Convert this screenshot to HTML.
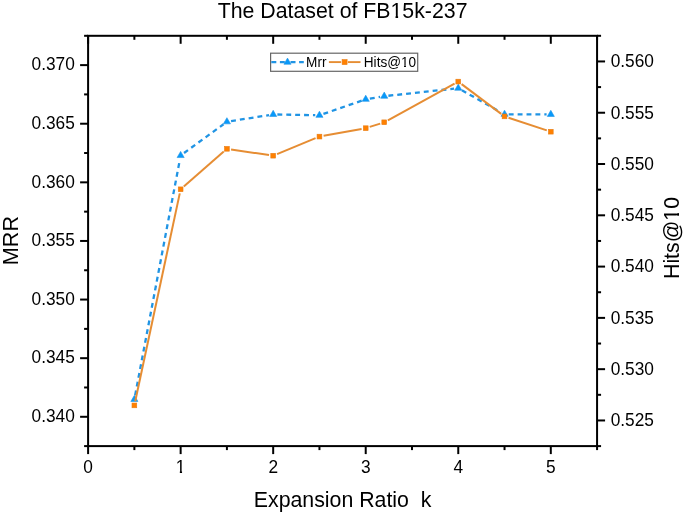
<!DOCTYPE html>
<html><head><meta charset="utf-8"><title>The Dataset of FB15k-237</title>
<style>html,body{margin:0;padding:0;background:#fff;}body{width:685px;height:513px;overflow:hidden;}svg{display:block;}</style>
</head><body>
<svg width="685" height="513" viewBox="0 0 685 513">
<rect width="685" height="513" fill="#fff"/>
<g stroke="#2094e4" stroke-width="2.3" stroke-dasharray="4.9 4.0" fill="none"><line x1="135.15" y1="395.27" x2="179.86" y2="159.63"/><line x1="184.03" y1="153.03" x2="223.52" y2="124.27"/><line x1="231.06" y1="121.14" x2="269.03" y2="115.06"/><line x1="277.38" y1="114.48" x2="315.25" y2="115.22"/><line x1="323.42" y1="113.93" x2="361.75" y2="100.67"/><line x1="369.86" y1="98.61" x2="380.09" y2="96.89"/><line x1="388.40" y1="95.75" x2="454.08" y2="88.65"/><line x1="461.92" y1="90.26" x2="500.87" y2="112.24"/><line x1="508.73" y1="114.31" x2="546.60" y2="114.39"/></g>
<g fill="#0799fb" stroke="#2094e4" stroke-width="0.6" stroke-linejoin="miter"><polygon points="134.37,395.30 130.82,401.45 137.92,401.45"/><polygon points="180.64,151.40 177.09,157.55 184.19,157.55"/><polygon points="226.91,117.70 223.36,123.85 230.46,123.85"/><polygon points="273.18,110.30 269.63,116.45 276.73,116.45"/><polygon points="319.45,111.20 315.90,117.35 323.00,117.35"/><polygon points="365.72,95.20 362.17,101.35 369.27,101.35"/><polygon points="384.23,92.10 380.68,98.25 387.78,98.25"/><polygon points="458.26,84.10 454.71,90.25 461.81,90.25"/><polygon points="504.53,110.20 500.98,116.35 508.08,116.35"/><polygon points="550.80,110.30 547.25,116.45 554.35,116.45"/></g>
<g stroke="#e68d33" stroke-width="2" fill="none"><line x1="135.25" y1="401.29" x2="179.76" y2="193.41"/><line x1="183.80" y1="186.53" x2="223.75" y2="151.57"/><line x1="231.06" y1="149.42" x2="269.03" y2="155.08"/><line x1="277.06" y1="154.10" x2="315.57" y2="138.20"/><line x1="323.58" y1="135.85" x2="361.59" y2="128.95"/><line x1="369.72" y1="126.92" x2="380.23" y2="123.58"/><line x1="387.91" y1="120.28" x2="454.58" y2="83.62"/><line x1="461.62" y1="84.12" x2="501.17" y2="113.88"/><line x1="508.52" y1="117.72" x2="546.81" y2="130.38"/></g>
<g fill="#ff8000" stroke="#e87d14" stroke-width="0.6"><rect x="132.00" y="403.02" width="4.75" height="4.75"/><rect x="178.26" y="186.93" width="4.75" height="4.75"/><rect x="224.53" y="146.43" width="4.75" height="4.75"/><rect x="270.81" y="153.32" width="4.75" height="4.75"/><rect x="317.08" y="134.22" width="4.75" height="4.75"/><rect x="363.35" y="125.82" width="4.75" height="4.75"/><rect x="381.85" y="119.92" width="4.75" height="4.75"/><rect x="455.88" y="79.22" width="4.75" height="4.75"/><rect x="502.15" y="114.03" width="4.75" height="4.75"/><rect x="548.43" y="129.32" width="4.75" height="4.75"/></g>
<g stroke="#000" stroke-width="2.0" stroke-linecap="butt"><rect x="88.1" y="35.8" width="508.97" height="410.30" fill="none"/><line x1="84.10" y1="446.10" x2="88.1" y2="446.10"/><line x1="84.10" y1="387.49" x2="88.1" y2="387.49"/><line x1="84.10" y1="328.87" x2="88.1" y2="328.87"/><line x1="84.10" y1="270.26" x2="88.1" y2="270.26"/><line x1="84.10" y1="211.64" x2="88.1" y2="211.64"/><line x1="84.10" y1="153.03" x2="88.1" y2="153.03"/><line x1="84.10" y1="94.41" x2="88.1" y2="94.41"/><line x1="84.10" y1="35.80" x2="88.1" y2="35.80"/><line x1="80.10" y1="416.79" x2="88.1" y2="416.79"/><line x1="80.10" y1="358.18" x2="88.1" y2="358.18"/><line x1="80.10" y1="299.56" x2="88.1" y2="299.56"/><line x1="80.10" y1="240.95" x2="88.1" y2="240.95"/><line x1="80.10" y1="182.34" x2="88.1" y2="182.34"/><line x1="80.10" y1="123.72" x2="88.1" y2="123.72"/><line x1="80.10" y1="65.11" x2="88.1" y2="65.11"/><line x1="597.07" y1="446.10" x2="601.07" y2="446.10"/><line x1="597.07" y1="394.81" x2="601.07" y2="394.81"/><line x1="597.07" y1="343.53" x2="601.07" y2="343.53"/><line x1="597.07" y1="292.24" x2="601.07" y2="292.24"/><line x1="597.07" y1="240.95" x2="601.07" y2="240.95"/><line x1="597.07" y1="189.66" x2="601.07" y2="189.66"/><line x1="597.07" y1="138.38" x2="601.07" y2="138.38"/><line x1="597.07" y1="87.09" x2="601.07" y2="87.09"/><line x1="597.07" y1="35.80" x2="601.07" y2="35.80"/><line x1="597.07" y1="420.46" x2="605.07" y2="420.46"/><line x1="597.07" y1="369.17" x2="605.07" y2="369.17"/><line x1="597.07" y1="317.88" x2="605.07" y2="317.88"/><line x1="597.07" y1="266.59" x2="605.07" y2="266.59"/><line x1="597.07" y1="215.31" x2="605.07" y2="215.31"/><line x1="597.07" y1="164.02" x2="605.07" y2="164.02"/><line x1="597.07" y1="112.73" x2="605.07" y2="112.73"/><line x1="597.07" y1="61.44" x2="605.07" y2="61.44"/><line x1="88.10" y1="446.1" x2="88.10" y2="454.10"/><line x1="88.10" y1="35.8" x2="88.10" y2="43.80"/><line x1="134.37" y1="446.1" x2="134.37" y2="450.10"/><line x1="134.37" y1="35.8" x2="134.37" y2="39.80"/><line x1="180.64" y1="446.1" x2="180.64" y2="454.10"/><line x1="180.64" y1="35.8" x2="180.64" y2="43.80"/><line x1="226.91" y1="446.1" x2="226.91" y2="450.10"/><line x1="226.91" y1="35.8" x2="226.91" y2="39.80"/><line x1="273.18" y1="446.1" x2="273.18" y2="454.10"/><line x1="273.18" y1="35.8" x2="273.18" y2="43.80"/><line x1="319.45" y1="446.1" x2="319.45" y2="450.10"/><line x1="319.45" y1="35.8" x2="319.45" y2="39.80"/><line x1="365.72" y1="446.1" x2="365.72" y2="454.10"/><line x1="365.72" y1="35.8" x2="365.72" y2="43.80"/><line x1="411.99" y1="446.1" x2="411.99" y2="450.10"/><line x1="411.99" y1="35.8" x2="411.99" y2="39.80"/><line x1="458.26" y1="446.1" x2="458.26" y2="454.10"/><line x1="458.26" y1="35.8" x2="458.26" y2="43.80"/><line x1="504.53" y1="446.1" x2="504.53" y2="450.10"/><line x1="504.53" y1="35.8" x2="504.53" y2="39.80"/><line x1="550.80" y1="446.1" x2="550.80" y2="454.10"/><line x1="550.80" y1="35.8" x2="550.80" y2="43.80"/><line x1="597.07" y1="446.1" x2="597.07" y2="450.10"/><line x1="597.07" y1="35.8" x2="597.07" y2="39.80"/></g>
<g transform="translate(74.8 422.09) scale(1 1.05)"><text font-family='"Liberation Sans", Arial, Helvetica, sans-serif' font-size="17.3" text-anchor="end">0.340</text></g>
<g transform="translate(74.8 363.48) scale(1 1.05)"><text font-family='"Liberation Sans", Arial, Helvetica, sans-serif' font-size="17.3" text-anchor="end">0.345</text></g>
<g transform="translate(74.8 304.86) scale(1 1.05)"><text font-family='"Liberation Sans", Arial, Helvetica, sans-serif' font-size="17.3" text-anchor="end">0.350</text></g>
<g transform="translate(74.8 246.25) scale(1 1.05)"><text font-family='"Liberation Sans", Arial, Helvetica, sans-serif' font-size="17.3" text-anchor="end">0.355</text></g>
<g transform="translate(74.8 187.64) scale(1 1.05)"><text font-family='"Liberation Sans", Arial, Helvetica, sans-serif' font-size="17.3" text-anchor="end">0.360</text></g>
<g transform="translate(74.8 129.02) scale(1 1.05)"><text font-family='"Liberation Sans", Arial, Helvetica, sans-serif' font-size="17.3" text-anchor="end">0.365</text></g>
<g transform="translate(74.8 70.41) scale(1 1.05)"><text font-family='"Liberation Sans", Arial, Helvetica, sans-serif' font-size="17.3" text-anchor="end">0.370</text></g>
<g transform="translate(610.7 426.36) scale(1 1.05)"><text font-family='"Liberation Sans", Arial, Helvetica, sans-serif' font-size="17.3">0.525</text></g>
<g transform="translate(610.7 375.07) scale(1 1.05)"><text font-family='"Liberation Sans", Arial, Helvetica, sans-serif' font-size="17.3">0.530</text></g>
<g transform="translate(610.7 323.78) scale(1 1.05)"><text font-family='"Liberation Sans", Arial, Helvetica, sans-serif' font-size="17.3">0.535</text></g>
<g transform="translate(610.7 272.49) scale(1 1.05)"><text font-family='"Liberation Sans", Arial, Helvetica, sans-serif' font-size="17.3">0.540</text></g>
<g transform="translate(610.7 221.21) scale(1 1.05)"><text font-family='"Liberation Sans", Arial, Helvetica, sans-serif' font-size="17.3">0.545</text></g>
<g transform="translate(610.7 169.92) scale(1 1.05)"><text font-family='"Liberation Sans", Arial, Helvetica, sans-serif' font-size="17.3">0.550</text></g>
<g transform="translate(610.7 118.63) scale(1 1.05)"><text font-family='"Liberation Sans", Arial, Helvetica, sans-serif' font-size="17.3">0.555</text></g>
<g transform="translate(610.7 67.34) scale(1 1.05)"><text font-family='"Liberation Sans", Arial, Helvetica, sans-serif' font-size="17.3">0.560</text></g>
<g transform="translate(88.10 473.2) scale(1 1.05)"><text font-family='"Liberation Sans", Arial, Helvetica, sans-serif' font-size="17.3" text-anchor="middle">0</text></g>
<g transform="translate(180.64 473.2) scale(1 1.05)"><text font-family='"Liberation Sans", Arial, Helvetica, sans-serif' font-size="17.3" text-anchor="middle">1</text><rect x="-4.29" y="-2.09" width="3.48" height="2.59" fill="#fff"/><rect x="1.42" y="-2.09" width="3.35" height="2.59" fill="#fff"/></g>
<g transform="translate(273.18 473.2) scale(1 1.05)"><text font-family='"Liberation Sans", Arial, Helvetica, sans-serif' font-size="17.3" text-anchor="middle">2</text></g>
<g transform="translate(365.72 473.2) scale(1 1.05)"><text font-family='"Liberation Sans", Arial, Helvetica, sans-serif' font-size="17.3" text-anchor="middle">3</text></g>
<g transform="translate(458.26 473.2) scale(1 1.05)"><text font-family='"Liberation Sans", Arial, Helvetica, sans-serif' font-size="17.3" text-anchor="middle">4</text></g>
<g transform="translate(550.80 473.2) scale(1 1.05)"><text font-family='"Liberation Sans", Arial, Helvetica, sans-serif' font-size="17.3" text-anchor="middle">5</text></g>
<g transform="translate(342.59 18)"><text font-family='"Liberation Sans", Arial, Helvetica, sans-serif' font-size="21.3" text-anchor="middle">The Dataset of FB15k-237</text><rect x="48.74" y="-2.39" width="4.18" height="2.89" fill="#fff"/><rect x="55.51" y="-2.39" width="4.02" height="2.89" fill="#fff"/></g>
<g transform="translate(342.59 506.5)"><text font-family='"Liberation Sans", Arial, Helvetica, sans-serif' font-size="21.3" text-anchor="middle" xml:space="preserve">Expansion Ratio  k</text></g>
<g transform="translate(17.7 240.6) rotate(-90)"><text font-family='"Liberation Sans", Arial, Helvetica, sans-serif' font-size="21.6" text-anchor="middle">MRR</text></g>
<g transform="translate(678.7 238.0) rotate(-90)"><text font-family='"Liberation Sans", Arial, Helvetica, sans-serif' font-size="21.3" text-anchor="middle">Hits@10</text><rect x="18.10" y="-2.39" width="4.18" height="2.89" fill="#fff"/><rect x="24.87" y="-2.39" width="4.02" height="2.89" fill="#fff"/></g>
<rect x="270.6" y="53.2" width="147.1" height="18.1" fill="#fff" stroke="#666" stroke-width="1.2"/>
<g stroke="#2094e4" stroke-width="2.3" stroke-dasharray="5 3.6"><line x1="271.3" y1="62.2" x2="284.8" y2="62.2"/><line x1="290.5" y1="62.2" x2="303.8" y2="62.2"/></g>
<g fill="#0799fb" stroke="#2094e4" stroke-width="0.6"><polygon points="287.50,58.10 283.95,64.25 291.05,64.25"/></g>
<g transform="translate(306.1 66.8) scale(1 1.1)"><text font-family='"Liberation Sans", Arial, Helvetica, sans-serif' font-size="13.6">Mrr</text></g>
<g stroke="#e68d33" stroke-width="1.9"><line x1="328.9" y1="62.1" x2="341.2" y2="62.1"/><line x1="347.9" y1="62.1" x2="360.5" y2="62.1"/></g>
<g fill="#ff8000" stroke="#e87d14" stroke-width="0.6"><rect x="342.1" y="59.6" width="5" height="5"/></g>
<g transform="translate(363.8 66.8) scale(1 1.1)"><text font-family='"Liberation Sans", Arial, Helvetica, sans-serif' font-size="13.6">Hits@10</text><rect x="37.41" y="-1.82" width="2.83" height="2.32" fill="#fff"/><rect x="42.15" y="-1.82" width="2.73" height="2.32" fill="#fff"/></g>
</svg>
</body></html>
